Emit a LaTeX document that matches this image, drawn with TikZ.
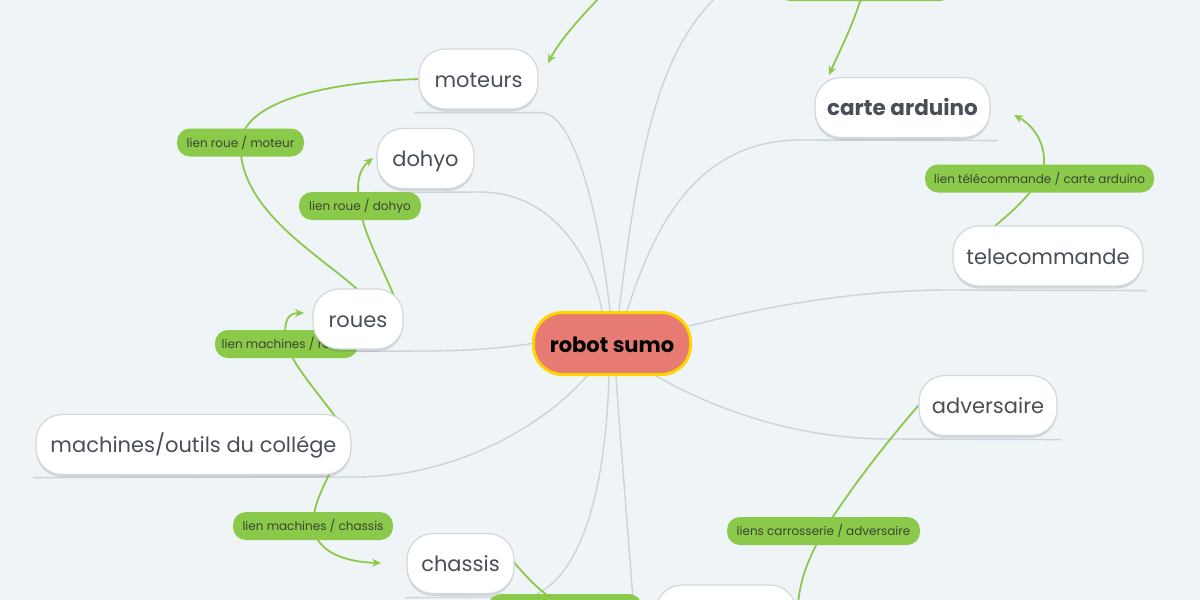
\documentclass[tikz,border=0pt]{standalone}
\usepackage{fontspec}
\setmainfont{Poppins}
\usetikzlibrary{arrows.meta,shadows,calc}
\definecolor{bgc}{HTML}{EFF4F7}
\definecolor{graylink}{HTML}{CDD3D8}
\definecolor{greenl}{HTML}{8CC84B}
\definecolor{greenbox}{HTML}{8BC94A}
\definecolor{nodeborder}{HTML}{D3D8DC}
\definecolor{nodetext}{HTML}{4A4F57}
\definecolor{sumofill}{HTML}{E77B73}
\definecolor{sumoborder}{HTML}{FFD500}
\definecolor{labeltext}{HTML}{3A4530}
\pgfdeclarelayer{back}
\pgfdeclarelayer{bg}
\pgfdeclarelayer{mid}
\pgfsetlayers{back,bg,mid,main}
\begin{document}
\begin{tikzpicture}[x=1pt,y=-1pt,
  wnode/.style={draw=nodeborder, line width=1.2pt, fill=white, rounded corners=26pt,
    minimum height=60pt, inner sep=0pt, font=\fontsize{21}{25}\selectfont, text=nodetext,
    text height=16.5pt, text depth=0pt,
    drop shadow={shadow xshift=0pt, shadow yshift=-2.5pt, opacity=0.12, fill=black}},
  glabel/.style={fill=greenbox, rounded corners=13pt, minimum height=28pt, inner sep=0pt,
    font=\fontsize{12}{14}\selectfont, text=labeltext, text height=9pt, text depth=0pt},
  glink/.style={draw=greenl, line width=1.8pt},
  garrow/.style={glink, -{Stealth[length=9pt,width=8pt]}},
  gconn/.style={draw=graylink, line width=1.4pt}]

\begin{pgfonlayer}{back}
  \fill[bgc] (0,0) rectangle (1200,600);
\end{pgfonlayer}
\useasboundingbox (0,0) rectangle (1200,600);

% main nodes
\node[draw=sumoborder, line width=3pt, fill=sumofill, rounded corners=29pt,
  minimum width=157pt, minimum height=62pt, inner sep=0pt,
  text height=18pt, text depth=0pt,
  font=\fontsize{21}{24}\selectfont\bfseries, text=black] (sumo) at (612,343.5) {robot sumo};
\node[wnode, minimum width=119pt] (moteurs) at (478.5,79) {moteurs};
\node[wnode, minimum width=97pt] (dohyo) at (425.5,158.5) {dohyo};
\node[wnode, minimum width=175pt, font=\fontsize{21.5}{25}\selectfont\bfseries] (carte) at (902.5,107.5) {carte arduino};
\node[wnode, minimum width=190pt] (telecom) at (1048,256) {telecommande};
\node[wnode, minimum width=90pt] (roues) at (358,319) {roues};
\node[wnode, minimum width=315pt] (machines) at (193.5,444.5) {machines/outils du collége};
\node[wnode, minimum width=107pt] (chassis) at (460.5,563.5) {chassis};
\node[wnode, minimum width=138pt] (adversaire) at (988,405.5) {adversaire};
\node[wnode, minimum width=140pt] (carrosserie) at (726,615) {};

% relation labels
\begin{pgfonlayer}{mid}
\node[glabel, minimum width=127pt] (l1) at (240.5,142.5) {lien roue / moteur};
\node[glabel, minimum width=122pt] (l2) at (360,206) {lien roue / dohyo};
\node[glabel, minimum width=143pt] (l3) at (286.5,344) {lien machines / roues};
\node[glabel, minimum width=160pt] (l4) at (313,526) {lien machines / chassis};
\node[glabel, minimum width=193pt] (l5) at (823.5,531) {liens carrosserie / adversaire};
\node[glabel, minimum width=229pt] (l6) at (1039.5,178.5) {lien télécommande / carte arduino};
\node[glabel, minimum width=176pt] (l7) at (865,-13) {};
\node[glabel, minimum width=154pt] (l8) at (565,608) {};
\end{pgfonlayer}

\coordinate (topend) at (730,-15);
\coordinate (tl) at (600,-3);
\coordinate (tr) at (861,-2);

\begin{pgfonlayer}{bg}
% gray branches
\draw[gconn] ($(moteurs.south west)+(-4,3)$) -- ($(moteurs.south east)+(2,3)$)
  .. controls (575,112) and (600,220) .. ([xshift=-2pt]sumo.north);
\draw[gconn] ($(dohyo.south west)+(-4,3.5)$) -- (480,192)
  .. controls (560,192) and (595,270) .. ([xshift=-10pt]sumo.north);
\draw[gconn] ([xshift=7pt]sumo.north) .. controls (640,140) and (660,40) .. (topend);
\draw[gconn] ([xshift=15pt]sumo.north) .. controls (650,240) and (690,140) .. (800,140)
  -- ($(carte.south east)+(7,2.5)$);
\draw[gconn] (689,326) .. controls (760,308) and (850,290) .. (950,290)
  -- ($(telecom.south east)+(3,4)$);
\draw[gconn] (656,376) .. controls (720,412) and (800,439) .. (890,439)
  -- ($(adversaire.south east)+(3,3.5)$);
\draw[gconn] ([xshift=4pt]sumo.south) .. controls (621,450) and (628,530) .. (636,640);
\draw[gconn] ([xshift=-3pt]sumo.south) .. controls (606,480) and (585,577) .. (530,597)
  -- ($(chassis.south west)+(-1,3.5)$);
\draw[gconn] (588,375) .. controls (540,430) and (450,477) .. (357,477)
  -- ($(machines.south west)+(-2,2.5)$);
\draw[gconn] (sumo.west) .. controls (490,350) and (450,351) .. (420,351)
  -- ($(roues.south west)+(-1,2)$);

% green relations
\draw[glink] (moteurs.west) .. controls (330,82) and (245,100) .. (l1.center)
  .. controls (238,210) and (320,255) .. (358,290);
\draw[garrow] (401,314) .. controls (386,272) and (363,236) .. (l2.center)
  .. controls (356,185) and (358,170) .. (373,158);
\draw[garrow] (350,440) .. controls (335,410) and (295,372) .. (l3.center)
  .. controls (282,318) and (290,313) .. (304,313);
\draw[garrow] (333,466) .. controls (322,490) and (313,505) .. (l4.center)
  .. controls (316,552) and (345,562) .. (381,563);
\draw[glink] (512,560) .. controls (525,575) and (537,590) .. (l8.center);
\draw[glink] (adversaire.west) .. controls (880,450) and (850,490) .. (l5.center)
  .. controls (808,560) and (798,580) .. (797,620);
\draw[garrow] (tl) .. controls (580,18) and (560,40) .. (548,63);
\draw[garrow] (l7.center) -- (tr) .. controls (853,25) and (840,50) .. (829,75);
\draw[garrow] (955,256) .. controls (975,240) and (1020,212) .. (l6.center)
  .. controls (1050,160) and (1042,130) .. (1014,115);
\end{pgfonlayer}
\end{tikzpicture}
\end{document}
